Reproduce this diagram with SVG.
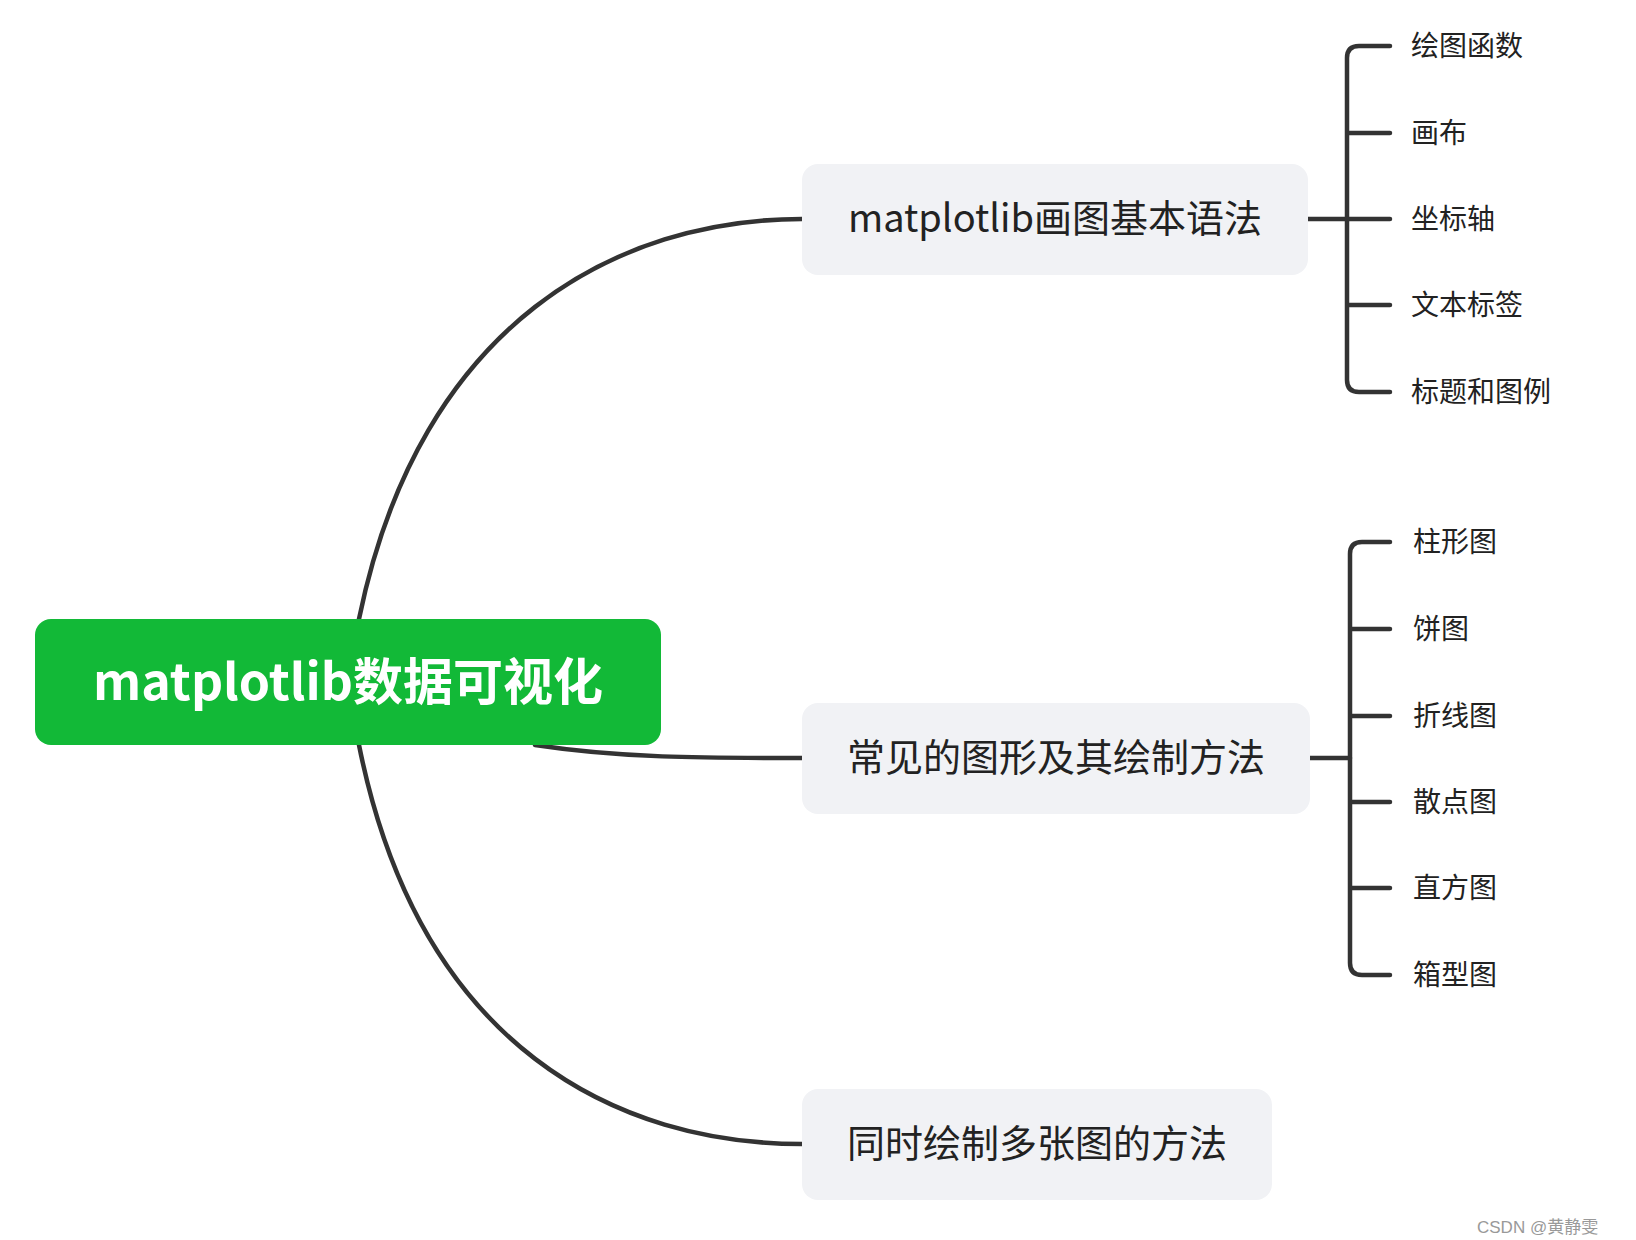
<svg xmlns="http://www.w3.org/2000/svg" width="1636" height="1240" viewBox="0 0 1636 1240">
<style>
.c{fill:none;stroke:#333;stroke-width:4.5;stroke-linecap:round}
.n{fill:#f1f2f5}
.t{font-family:"Noto Sans CJK SC","Noto Sans",sans-serif;fill:#222}
.m{font-size:38px}
.l{font-size:28px}
</style>
<rect width="1636" height="1240" fill="#fff"/>
<g id="connectors">
<path class="c" d="M359 619 C420 320 620 219 802 219"/>
<path class="c" d="M359 745 C420 1050 620 1144 802 1144"/>
<path class="c" d="M535 745 C620 758 700 758 802 758"/>
<path class="c" d="M1308 219 H1347"/>
<path class="c" d="M1390 46 H1359 Q1347 46 1347 58 V380 Q1347 392 1359 392 H1390 M1347 133 Q1347 133 1359 133 H1390 M1347 219 H1390 M1347 305 H1390"/>
<path class="c" d="M1310 758 H1350"/>
<path class="c" d="M1390 542 H1362 Q1350 542 1350 554 V963 Q1350 975 1362 975 H1390 M1350 629 H1390 M1350 716 H1390 M1350 802 H1390 M1350 888 H1390"/>
</g>
<g id="root"><rect x="35" y="619" width="626" height="126" rx="16" fill="#12b937"/><text x="348" y="700" text-anchor="middle" font-family="Noto Sans CJK SC,sans-serif" font-weight="bold" font-size="50" fill="#fff">matplotlib数据可视化</text></g>
<g id="n1"><rect class="n" x="802" y="164" width="506" height="111" rx="16"/><text class="t m" x="1055" y="232" text-anchor="middle">matplotlib画图基本语法</text></g>
<g id="n2"><rect class="n" x="802" y="703" width="508" height="111" rx="16"/><text class="t m" x="1056" y="771" text-anchor="middle">常见的图形及其绘制方法</text></g>
<g id="n3"><rect class="n" x="802" y="1089" width="470" height="111" rx="16"/><text class="t m" x="1037" y="1157" text-anchor="middle">同时绘制多张图的方法</text></g>
<g id="leaves1" class="t l">
<text x="1411" y="56">绘图函数</text><text x="1411" y="143">画布</text><text x="1411" y="229">坐标轴</text><text x="1411" y="315">文本标签</text><text x="1411" y="402">标题和图例</text>
</g>
<g id="leaves2" class="t l">
<text x="1413" y="552">柱形图</text><text x="1413" y="639">饼图</text><text x="1413" y="726">折线图</text><text x="1413" y="812">散点图</text><text x="1413" y="898">直方图</text><text x="1413" y="985">箱型图</text>
</g>
<text x="1477" y="1233" font-family="Liberation Sans,Noto Sans CJK SC,sans-serif" font-size="17" fill="#999">CSDN @黄静雯</text>
</svg>
